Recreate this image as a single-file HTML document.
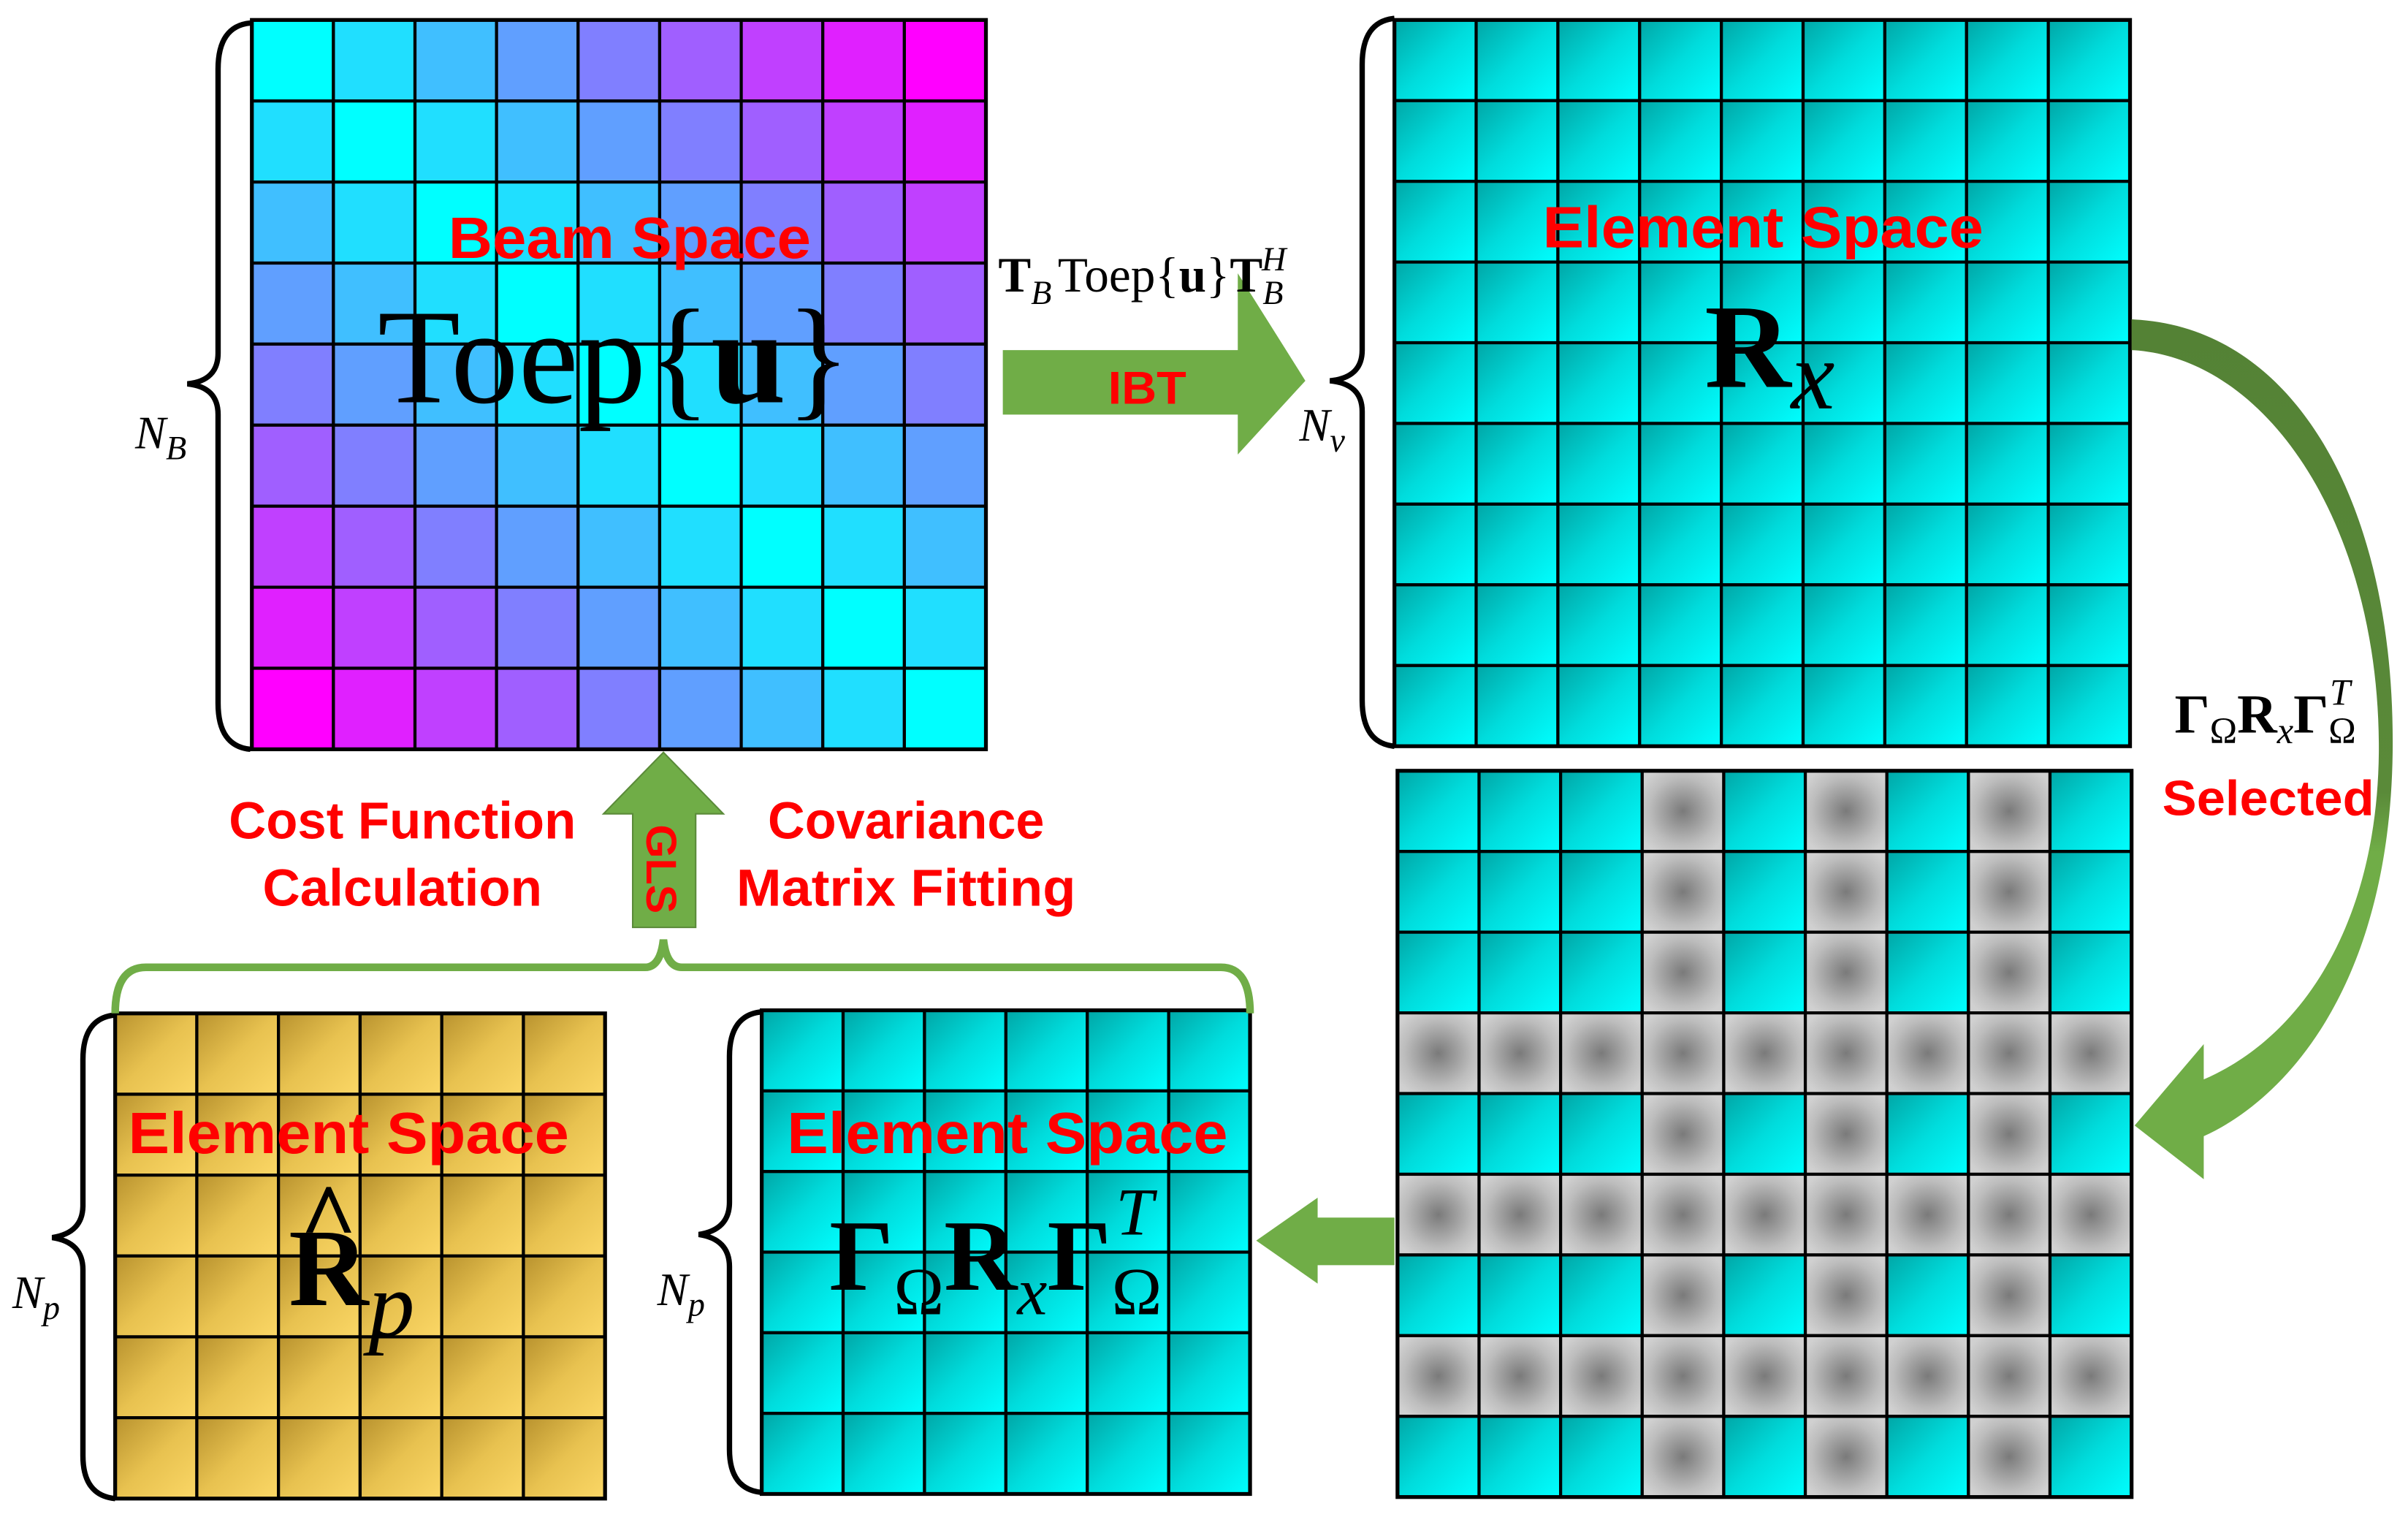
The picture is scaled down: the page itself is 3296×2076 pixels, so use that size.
<!DOCTYPE html>
<html><head><meta charset="utf-8">
<style>
html,body{margin:0;padding:0;background:#fff;}
svg{display:block;}
.red{fill:#ff0000;font-family:"Liberation Sans",sans-serif;font-weight:bold;}
.math{font-family:"Liberation Serif",serif;fill:#000;}
</style></head>
<body>
<svg id="fig" width="3296" height="2076" viewBox="0 0 1568 988" preserveAspectRatio="none" xmlns="http://www.w3.org/2000/svg">
<defs>
<linearGradient id="cyanG" x1="0" y1="0" x2="1" y2="1">
<stop offset="0" stop-color="#00a6a6"/><stop offset="0.5" stop-color="#00dcdc"/><stop offset="1" stop-color="#00ffff"/></linearGradient>
<linearGradient id="goldG" x1="0" y1="0" x2="1" y2="1">
<stop offset="0" stop-color="#b8922e"/><stop offset="0.5" stop-color="#e8c250"/><stop offset="1" stop-color="#fbd766"/></linearGradient>
<radialGradient id="grayG" cx="0.5" cy="0.5" r="0.6">
<stop offset="0" stop-color="#7a7a7a"/><stop offset="0.7" stop-color="#bdbdbd"/><stop offset="1" stop-color="#d0d0d0"/></radialGradient>
<linearGradient id="curveG" x1="0" y1="0" x2="0" y2="1">
<stop offset="0" stop-color="#548235"/><stop offset="0.55" stop-color="#5a8a39"/><stop offset="0.62" stop-color="#70ad47"/><stop offset="1" stop-color="#70ad47"/></linearGradient>
</defs>
<g id="matrices"></g>

<g fill="none" stroke="#000" stroke-width="3.5">
<path d="M163,15 Q142,17 142,45 L142,230 Q142,248 122,250 Q142,252 142,270 L142,458 Q142,486 163,488"/>
<path d="M908,12 Q887,14 887,42 L887,228 Q887,246 866,248 Q887,250 887,268 L887,456 Q887,484 908,486"/>
<path d="M75,661 Q54,663 54,690 L54,785 Q54,803 34,806 Q54,809 54,827 L54,948 Q54,974 75,976"/>
<path d="M496,659 Q475,661 475,688 L475,783 Q475,801 455,804 Q475,807 475,825 L475,944 Q475,970 496,972"/>
</g>
<g class="math" font-style="italic" font-size="30">
<text x="88" y="292">N<tspan font-size="22" dy="7">B</tspan></text>
<text x="846" y="287">N<tspan font-size="22" dy="7">v</tspan></text>
<text x="8" y="852">N<tspan font-size="22" dy="7">p</tspan></text>
<text x="428" y="850">N<tspan font-size="22" dy="7">p</tspan></text>
</g>

<text class="red" x="410" y="168" font-size="38" text-anchor="middle" textLength="236" lengthAdjust="spacingAndGlyphs">Beam Space</text>
<text class="math" x="400" y="262" font-size="88" text-anchor="middle">Toep{<tspan font-weight="bold">u</tspan>}</text>
<text class="red" x="1148" y="161" font-size="38" text-anchor="middle" textLength="287" lengthAdjust="spacingAndGlyphs">Element Space</text>
<text class="math" x="1110" y="252" font-size="78" font-weight="bold">R<tspan font-style="italic" font-weight="normal" font-size="64" dy="14">x</tspan></text>
<text class="red" x="227" y="751" font-size="38" text-anchor="middle" textLength="287" lengthAdjust="spacingAndGlyphs">Element Space</text>
<text class="math" x="188" y="850" font-size="72" font-weight="bold">R<tspan font-style="italic" font-weight="normal" font-size="60" dy="20">p</tspan></text>
<text class="math" x="214" y="815" font-size="64" font-weight="bold" text-anchor="middle">^</text>
<text class="red" x="656" y="751" font-size="38" text-anchor="middle" textLength="287" lengthAdjust="spacingAndGlyphs">Element Space</text>
<text class="math" x="540" y="840" font-size="66" font-weight="bold">Γ<tspan font-size="44" font-weight="normal" dy="16">Ω</tspan><tspan dy="-16">R</tspan><tspan font-size="44" font-weight="normal" font-style="italic" dy="16">x</tspan><tspan dy="-16">Γ</tspan><tspan font-size="44" font-weight="normal" dy="16">Ω</tspan><tspan font-size="44" font-weight="normal" font-style="italic" dx="-30" dy="-52">T</tspan></text>

<path d="M653,228 L806,228 L806,178 L850,248 L806,296 L806,270 L653,270 Z" fill="#70ad47"/>
<text class="red" x="747" y="263" font-size="30" text-anchor="middle" textLength="51" lengthAdjust="spacingAndGlyphs">IBT</text>
<text class="math" x="650" y="190" font-size="32"><tspan font-weight="bold">T</tspan><tspan font-style="italic" font-size="22" dy="8">B</tspan><tspan dy="-8" dx="4">Toep{</tspan><tspan font-weight="bold">u</tspan>}<tspan font-weight="bold">T</tspan><tspan font-style="italic" font-size="22" dy="8">B</tspan><tspan font-style="italic" font-size="22" dx="-14" dy="-22">H</tspan></text>

<path d="M1388,208 C1495,212 1560,330 1558,490 C1556,640 1490,715 1435,740 L1435,768 L1390,733 L1435,680 L1435,703 C1500,675 1548,600 1549,490 C1550,345 1478,233 1388,228 Z" fill="url(#curveG)"/>
<text class="math" x="1416" y="477" font-size="36" font-weight="bold">Γ<tspan font-size="24" font-weight="normal" dy="7">Ω</tspan><tspan dy="-7">R</tspan><tspan font-size="24" font-weight="normal" font-style="italic" dy="7">x</tspan><tspan dy="-7">Γ</tspan><tspan font-size="24" font-weight="normal" dy="7">Ω</tspan><tspan font-size="24" font-weight="normal" font-style="italic" dx="-17" dy="-25">T</tspan></text>
<text class="red" x="1477" y="531" font-size="32" text-anchor="middle" textLength="138" lengthAdjust="spacingAndGlyphs">Selected</text>

<path d="M908,793 L858,793 L858,780 L818,808 L858,836 L858,824 L908,824 Z" fill="#70ad47"/>

<path d="M75,660 Q75,630 95,630 L420,630 Q430,630 432,612 Q434,630 444,630 L795,630 Q814,630 814,660" fill="none" stroke="#70ad47" stroke-width="5"/>
<path d="M412,604 L412,530 L393,530 L432,490 L471,530 L453,530 L453,604 Z" fill="#70ad47" stroke="#5a8a39" stroke-width="1"/>
<text class="red" transform="translate(421,566) rotate(90)" font-size="28" text-anchor="middle" textLength="58" lengthAdjust="spacingAndGlyphs">GLS</text>
<text class="red" x="262" y="546" font-size="34" text-anchor="middle" textLength="226" lengthAdjust="spacingAndGlyphs">Cost Function</text>
<text class="red" x="262" y="590" font-size="34" text-anchor="middle" textLength="182" lengthAdjust="spacingAndGlyphs">Calculation</text>
<text class="red" x="590" y="546" font-size="34" text-anchor="middle" textLength="180" lengthAdjust="spacingAndGlyphs">Covariance</text>
<text class="red" x="590" y="590" font-size="34" text-anchor="middle" textLength="221" lengthAdjust="spacingAndGlyphs">Matrix Fitting</text>
</svg>
<script>
const matrixNames = ['beam-space-matrix','element-space-rx-matrix','selected-matrix','rp-hat-matrix','gamma-rx-gamma-matrix'];
const matrixBounds = [[164,13,642,488],[908,13,1387,486],[910,502,1388,975],[75,660,394,976],[496,658,814,973]];
const matrixSizes = [9,9,9,6,6];
const matrixFills = ['toep','cyan','selected','gold','cyan'];
const toepColors = ['#00ffff','#20dfff','#40bfff','#609fff','#807fff','#a05fff','#c040ff','#e020ff','#ff00ff'];
const selectedIdx = [3,5,7];

const g = document.getElementById('matrices');
const NS = 'http://www.w3.org/2000/svg';
matrixNames.forEach((name, m) => {
  const [x0,y0,x1,y1] = matrixBounds[m];
  const n = matrixSizes[m];
  const cw = (x1-x0)/n, ch = (y1-y0)/n;
  const grp = document.createElementNS(NS,'g');
  
  
  for (let i=0;i<n;i++) for (let j=0;j<n;j++) {
    const r = document.createElementNS(NS,'rect');
    r.setAttribute('x', x0+j*cw); r.setAttribute('y', y0+i*ch);
    r.setAttribute('width', cw); r.setAttribute('height', ch);
    let f;
    if (matrixFills[m]==='toep') f = toepColors[Math.abs(i-j)];
    else if (matrixFills[m]==='gold') f = 'url(#goldG)';
    else if (matrixFills[m]==='selected') f = (selectedIdx.includes(i)||selectedIdx.includes(j)) ? 'url(#grayG)' : 'url(#cyanG)';
    else f = 'url(#cyanG)';
    r.setAttribute('fill', f);
    r.setAttribute('stroke', '#000');
    r.setAttribute('stroke-width', '2');
    
    
    grp.appendChild(r);
  }
  const b = document.createElementNS(NS,'rect');
  b.setAttribute('x',x0); b.setAttribute('y',y0);
  b.setAttribute('width',x1-x0); b.setAttribute('height',y1-y0);
  b.setAttribute('fill','none'); b.setAttribute('stroke','#000'); b.setAttribute('stroke-width','2.5');
  
  
  grp.appendChild(b);
  g.appendChild(grp);
});
</script>
</body></html>
